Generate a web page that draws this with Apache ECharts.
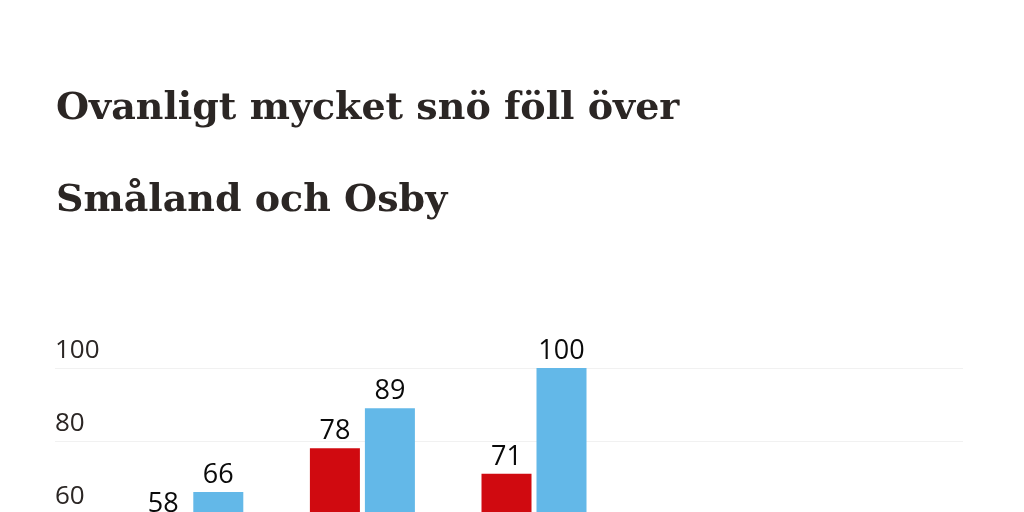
<!DOCTYPE html>
<html>
<head>
<meta charset="utf-8">
<script src="https://cdn.jsdelivr.net/npm/echarts@6/dist/echarts.min.js"></script>
<style>
html,body{margin:0;padding:0;background:#fff;overflow:hidden;}
#chart{width:1024px;height:800px;}
</style>
</head>
<body>
<div id="chart"></div>
<script>
const titleLines = ["Ovanligt mycket snö föll över", "Småland och Osby"];
const categories = ["Växjö", "Osby", "Ljungby", "Kalmar", "Jönköping"];
const seriesNames = ["Tidigare", "I år"];
const redValues = [58, 78, 71, 45, 38];
const blueValues = [66, 89, 100, 52, 47];
const yTicks = [0, 20, 40, 60, 80, 100];

const chart = echarts.init(document.getElementById('chart'), null, {renderer: 'canvas'});
const titleFont = {fontFamily: 'DejaVu Serif', fontWeight: 'bold', fontSize: 38, color: '#2b2624'};
const option = {
  animation: false,
  backgroundColor: '#ffffff',
  title: [
    {text: titleLines[0], left: 56, top: 90, padding: 0, textStyle: titleFont},
    {text: titleLines[1], left: 56, top: 182, padding: 0, textStyle: titleFont}
  ],
  grid: [
    {left: 55, right: 61, top: 368, bottom: 67},
    {left: 105, right: 61, top: 368, bottom: 67}
  ],
  xAxis: [
    {type: 'category', gridIndex: 0, data: categories, show: false},
    {type: 'category', gridIndex: 1, data: categories,
     axisLine: {show: false}, axisTick: {show: false},
     axisLabel: {fontFamily: 'Open Sans', fontSize: 20, color: '#2b2624'}}
  ],
  yAxis: [
    {type: 'value', gridIndex: 0, min: yTicks[0], max: yTicks[yTicks.length - 1], interval: 20,
     axisLine: {show: false}, axisTick: {show: false},
     splitLine: {lineStyle: {color: '#f1f1f1', width: 1}},
     axisLabel: {inside: true, margin: 0, align: 'left', verticalAlign: 'bottom',
       padding: [0, 0, 4, 0], fontFamily: 'Open Sans', fontSize: 26, color: '#2b2624'}},
    {type: 'value', gridIndex: 1, min: yTicks[0], max: yTicks[yTicks.length - 1], interval: 20, show: false,
     splitLine: {show: false}}
  ],
  series: [
    {name: seriesNames[0], type: 'bar', xAxisIndex: 1, yAxisIndex: 1, data: redValues,
     barWidth: 50, barGap: '10%', itemStyle: {color: '#d00a10'},
     label: {show: true, position: 'top', distance: 3, fontFamily: 'Open Sans', fontSize: 27, color: '#0a0a0a'}},
    {name: seriesNames[1], type: 'bar', xAxisIndex: 1, yAxisIndex: 1, data: blueValues,
     barWidth: 50, barGap: '10%', itemStyle: {color: '#63b8e8'},
     label: {show: true, position: 'top', distance: 3, fontFamily: 'Open Sans', fontSize: 27, color: '#0a0a0a'}}
  ]
};
chart.setOption(option);
</script>
</body>
</html>
